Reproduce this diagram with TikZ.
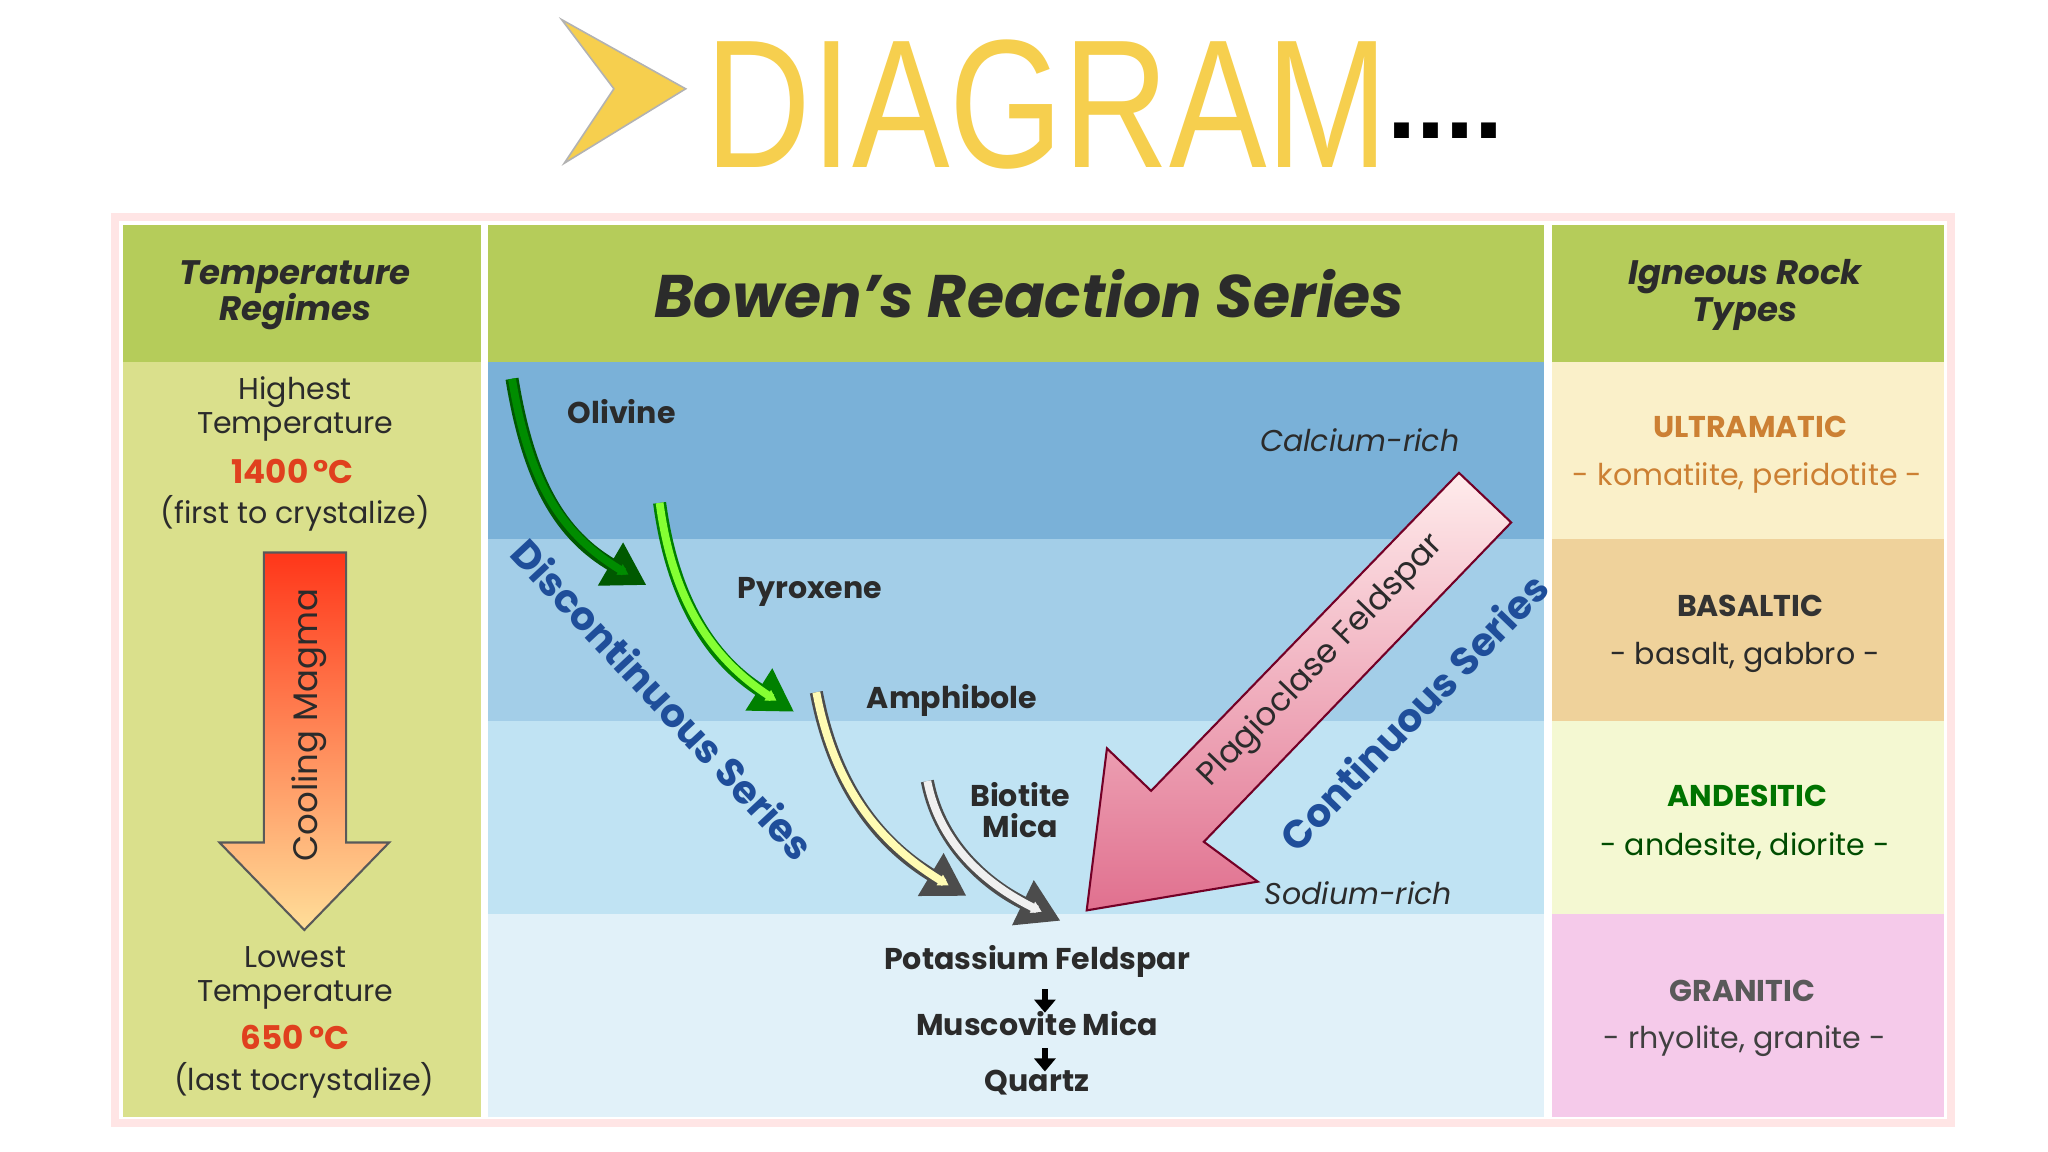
\documentclass[tikz,border=0pt]{standalone}
\usepackage{fontspec}
\setmainfont{Poppins}
\newfontfamily\titlefont{Liberation Sans}
\usetikzlibrary{arrows.meta}
\definecolor{hdr}{HTML}{B5CC5A}
\definecolor{lbody}{HTML}{DAE08C}
\definecolor{bA}{HTML}{7AB1D8}
\definecolor{bB}{HTML}{A3CEE8}
\definecolor{bC}{HTML}{C0E3F3}
\definecolor{bD}{HTML}{E1F1F9}
\definecolor{rA}{HTML}{FAF0C9}
\definecolor{rB}{HTML}{EFD29B}
\definecolor{rC}{HTML}{F4F8D2}
\definecolor{rD}{HTML}{F5CAEA}
\definecolor{tyel}{HTML}{F6CF4E}
\definecolor{txt}{HTML}{2B2B2B}
\definecolor{bluet}{HTML}{1F4E9A}
\definecolor{redt}{HTML}{E0401E}
\tikzset{
  every node/.style={text=txt},
  hd/.style={font=\bfseries\itshape\fontsize{13}{15}\selectfont, align=center},
  bt/.style={font=\fontsize{11.5}{13}\selectfont, align=center},
  mt/.style={font=\bfseries\fontsize{11.5}{13}\selectfont},
  ct/.style={font=\itshape\fontsize{11.5}{13}\selectfont},
  sarrow/.style={line width=5pt},
}
\begin{document}
\begin{tikzpicture}[x=0.5pt,y=-0.5pt]
\useasboundingbox (0,0) rectangle (1568,882);
\fill[white] (0,0) rectangle (1568,882);
% title
\fill[tyel,draw=gray!60,line width=0.6pt] (430,15) -- (525,68) -- (432,125) -- (470,68) -- cycle;
\node[anchor=west,text=tyel,inner sep=0,xscale=0.8] (title) at (540,80) {\titlefont\fontsize{70}{70}\selectfont DIAGRAM};
\node[anchor=west,inner sep=0,text=black] (dots) at (1062,100) {\titlefont\bfseries\fontsize{40}{40}\selectfont ....};
% frame
\draw[pink!40,line width=3pt] (88,166) rectangle (1494,860);
\fill[hdr] (94,172) rectangle (368,277);
\fill[lbody] (94,277) rectangle (368,855);
\fill[hdr] (374,172) rectangle (1182,277);
\fill[bA] (374,277) rectangle (1182,413);
\fill[bB] (374,413) rectangle (1182,552);
\fill[bC] (374,552) rectangle (1182,700);
\fill[bD] (374,700) rectangle (1182,855);
\fill[hdr] (1188,172) rectangle (1488,277);
\fill[rA] (1188,277) rectangle (1488,413);
\fill[rB] (1188,413) rectangle (1488,552);
\fill[rC] (1188,552) rectangle (1488,700);
\fill[rD] (1188,700) rectangle (1488,855);
% headers
\node[hd] (h1) at (226,226) {Temperature\\[-1pt]Regimes};
\node[font=\bfseries\itshape\fontsize{23}{26}\selectfont] (h2) at (788,225) {Bowen’s Reaction Series};
\node[hd] (h3) at (1336,226) {Igneous Rock\\[-1pt]Types};
% left texts
\node[bt] (hi) at (226,313) {Highest\\Temperature};
\node[font=\bfseries\fontsize{12.5}{14}\selectfont,text=redt] (t1) at (224,361) {1400\,°C};
\node[bt] (f1) at (226,393) {(first to crystalize)};
\node[bt] (lo) at (226,749) {Lowest\\Temperature};
\node[font=\bfseries\fontsize{12.5}{14}\selectfont,text=redt] (t2) at (226,794) {650\,°C};
\node[bt] (f2) at (233,827) {(last tocrystalize)};
% cooling arrow
\shade[top color=red!75!orange!90, bottom color=yellow!35!orange!40, draw=gray!70!black, line width=0.8pt]
 (202,423) -- (265,423) -- (265,645) -- (298,645) -- (233,712) -- (168,645) -- (202,645) -- cycle;
\node[rotate=90,font=\fontsize{13}{13}\selectfont] (cm) at (237,555) {Cooling Magma};
% right texts
\node[font=\bfseries\fontsize{11.5}{14}\selectfont,text=brown!80!orange] (u) at (1340,327) {ULTRAMATIC};
\node[bt,text=brown!80!orange] (u2) at (1338,366) {- komatiite, peridotite -};
\node[font=\bfseries\fontsize{11.5}{14}\selectfont,text=black!80] (b) at (1340,464) {BASALTIC};
\node[bt] (b2) at (1336,503) {- basalt, gabbro -};
\node[font=\bfseries\fontsize{11.5}{14}\selectfont,text=green!45!black] (a) at (1338,609) {ANDESITIC};
\node[bt,text=green!30!black] (a2) at (1336,648) {- andesite, diorite -};
\node[font=\bfseries\fontsize{11.5}{14}\selectfont,text=black!65] (g) at (1334,759) {GRANITIC};
\node[bt,text=black!75] (g2) at (1336,797) {- rhyolite, granite -};
% minerals
\node[mt] (ol) at (476,315) {Olivine};
\node[mt] (py) at (620,453) {Pyroxene};
\node[mt] (am) at (729,536) {Amphibole};
\node[mt,align=center] (bi) at (781,620) {Biotite\\[-1pt]Mica};
\node[ct] (ca) at (1041,337) {Calcium-rich};
\node[ct] (na) at (1040,684) {Sodium-rich};
\node[mt] (kf) at (794,736) {Potassium Feldspar};
\node[mt] (mu) at (794,784) {Muscovite Mica};
\node[mt] (qz) at (794,829) {Quartz};
\draw[line width=2.5pt,-{Triangle[length=5pt,width=8pt]}] (kf.south) ++(6,2) -- ++(0,18);
\draw[line width=2.5pt,-{Triangle[length=5pt,width=8pt]}] (mu.south) ++(6,2) -- ++(0,18);
% curved arrows
\coordinate (o1) at (392,290); \coordinate (o2) at (495,448);
\draw[sarrow,draw=green!35!black,-{Triangle[length=16pt,width=18pt,fill=green!55!black]}] (o1) .. controls (405,370) and (430,410) .. (o2);
\draw[line width=3pt,green!55!black,shorten >=10pt] (o1) .. controls (405,370) and (430,410) .. (o2);
\coordinate (p1) at (505,385); \coordinate (p2) at (608,545);
\draw[sarrow,draw=green!50!black,-{Triangle[length=16pt,width=18pt,fill=green!60!yellow!80]}] (p1) .. controls (515,460) and (545,505) .. (p2);
\draw[line width=3pt,green!60!yellow!80,shorten >=10pt] (p1) .. controls (515,460) and (545,505) .. (p2);
\coordinate (a1) at (625,530); \coordinate (a2) at (740,686);
\draw[sarrow,draw=gray!60!black,-{Triangle[length=16pt,width=18pt,fill=yellow!30]}] (a1) .. controls (640,610) and (680,650) .. (a2);
\draw[line width=3pt,yellow!30,shorten >=10pt] (a1) .. controls (640,610) and (680,650) .. (a2);
\coordinate (c1) at (710,598); \coordinate (c2) at (812,705);
\draw[sarrow,draw=gray!60!black,-{Triangle[length=16pt,width=18pt,fill=gray!12]}] (c1) .. controls (720,650) and (760,680) .. (c2);
\draw[line width=3pt,gray!12,shorten >=10pt] (c1) .. controls (720,650) and (760,680) .. (c2);
% plagioclase arrow
\shade[shading angle=135, top color=pink!30, bottom color=purple!60!pink!80, draw=purple!60!black, line width=0.8pt]
 (1117,362) -- (1157,400) -- (921.7,644.5) -- (963,675) -- (832,697) -- (847.5,573) -- (881.3,605.5) -- cycle;
\node[rotate=46,font=\fontsize{12.5}{13}\selectfont] (pf) at (1012,506) {Plagioclase Feldspar};
\node[rotate=46,font=\bfseries\fontsize{15}{15}\selectfont,text=bluet] (cs) at (1082,545) {Continuous Series};
\node[rotate=-47,font=\bfseries\fontsize{15}{15}\selectfont,text=bluet] (ds) at (508,535) {Discontinuous Series};
\end{tikzpicture}
\end{document}
